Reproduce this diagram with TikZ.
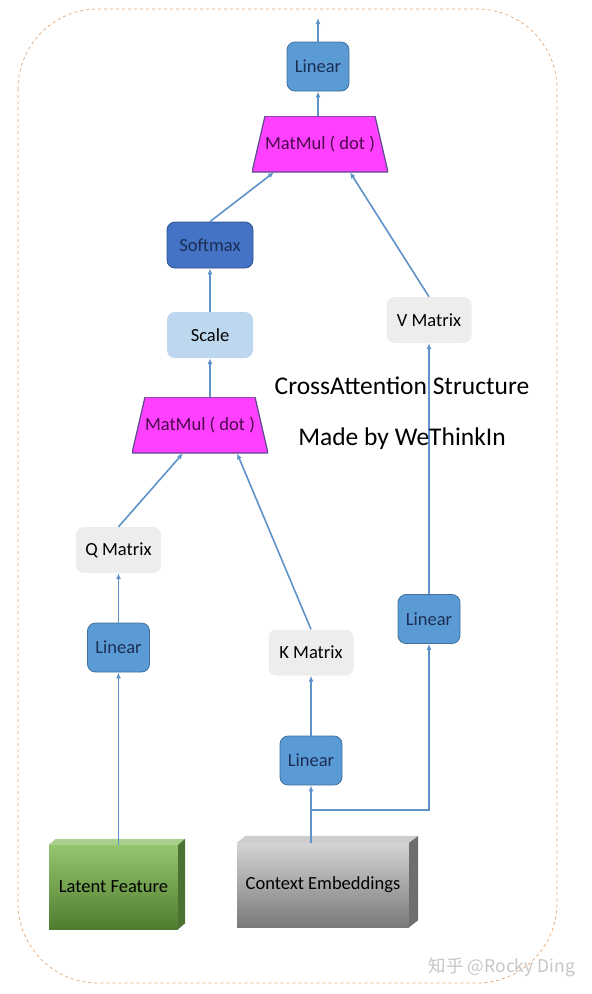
\documentclass[tikz,border=0pt]{standalone}
\usepackage{fontspec}
\setmainfont{Carlito}
\newfontfamily\cjkfont{Noto Sans CJK SC}
\usepackage{tikz}
\usepackage{xcolor}
\usetikzlibrary{arrows.meta,
	positioning}
\definecolor{linfill}{HTML}{5B9BD5}
\definecolor{linedge}{HTML}{41719C}
\definecolor{softfill}{HTML}{4472C4}
\definecolor{softedge}{HTML}{2F528F}
\definecolor{sclfill}{HTML}{BDD7EE}
\definecolor{mtxfill}{HTML}{EDEDED}
\definecolor{mmfill}{HTML}{FF40FF}
\definecolor{mmedge}{HTML}{5A4A8A}
\definecolor{mmtext}{HTML}{4A0A4A}
\definecolor{navy}{HTML}{1C2E55}
\definecolor{arblue}{HTML}{5E93C9}
\definecolor{frame}{HTML}{E2A672}
\definecolor{latA}{HTML}{95C66F}
\definecolor{latB}{HTML}{507C2F}
\definecolor{latT}{HTML}{A9D08E}
\definecolor{latS}{HTML}{4A7230}
\definecolor{ctxA}{HTML}{D3D3D3}
\definecolor{ctxB}{HTML}{7A7A7A}
\definecolor{ctxT}{HTML}{CDCDCD}
\definecolor{ctxS}{HTML}{6E6E6E}
\tikzstyle{txt}=[font=\fontsize{18.5}{22}\selectfont, inner sep=0]
\tikzstyle{lin}=[txt, draw=linedge, line width=0.8pt, fill=linfill, rounded corners=8pt,
		minimum width=62pt, minimum height=49pt, text=navy]
\tikzstyle{sm}=[txt, draw=softedge, line width=0.8pt, fill=softfill, rounded corners=8pt,
		minimum width=86pt, minimum height=46pt, text=navy]
\tikzstyle{sc}=[txt, fill=sclfill, rounded corners=8pt, minimum width=86pt, minimum height=46pt]
\tikzstyle{mtx}=[txt, fill=mtxfill, rounded corners=8pt, minimum width=85pt, minimum height=46pt]
\tikzstyle{mm}=[txt, fill=white, minimum width=136pt, minimum height=56pt, text=mmtext,
		path picture={\filldraw[fill=mmfill, draw=mmedge, line width=1.2pt]
			([xshift=13pt]path picture bounding box.north west)
			-- ([xshift=-13pt]path picture bounding box.north east)
			-- (path picture bounding box.south east)
			-- (path picture bounding box.south west) -- cycle;}]
\tikzstyle{ar}=[draw=arblue, line width=1.6pt, -{Latex[length=6pt,width=5pt]}]
\tikzstyle{ttl}=[font=\fontsize{25.5}{30}\selectfont, inner sep=0]

\begin{document}
\begin{tikzpicture}[x=1pt, y=-1pt]
	\useasboundingbox (0,0) rectangle (592,994);
	\draw[frame, dashed, line width=0.7pt, rounded corners=80pt] (18,9) rectangle (557,983);

	\node[lin] (lint) at (318,66.5) {Linear};
	\node[mm] (mmt) at (320,144) {MatMul ( dot )};
	\node[sm] (soft) at (210,245) {Softmax};
	\node[sc] (scl) at (210,335) {Scale};
	\node[mtx] (vmat) at (429,320) {V Matrix};
	\node[mm] (mml) at (200,425) {MatMul ( dot )};
	\node[mtx] (qmat) at (118.5,550) {Q Matrix};
	\node[lin] (qlin) at (118.5,647.5) {Linear};
	\node[mtx] (kmat) at (311,652.5) {K Matrix};
	\node[lin] (klin) at (311,760.5) {Linear};
	\node[lin] (vlin) at (429,619) {Linear};

	\node[txt, shade, top color=latA, bottom color=latB,
		minimum width=129pt, minimum height=84pt] (lat) at (113.5,887) {Latent Feature};
	\fill[latT] (lat.north west) -- ([shift={(7,-6)}]lat.north west)
		-- ([shift={(7,-6)}]lat.north east) -- (lat.north east) -- cycle;
	\fill[latS] (lat.north east) -- ([shift={(7,-6)}]lat.north east)
		-- ([shift={(7,-6)}]lat.south east) -- (lat.south east) -- cycle;

	\node[txt, shade, top color=ctxA, bottom color=ctxB,
		minimum width=172pt, minimum height=84pt] (ctx) at (323,885) {Context Embeddings};
	\fill[ctxT] (ctx.north west) -- ([shift={(9,-7)}]ctx.north west)
		-- ([shift={(9,-7)}]ctx.north east) -- (ctx.north east) -- cycle;
	\fill[ctxS] (ctx.north east) -- ([shift={(9,-7)}]ctx.north east)
		-- ([shift={(9,-7)}]ctx.south east) -- (ctx.south east) -- cycle;

	\coordinate (out) at (318,18);
	\coordinate (br) at (311,810);
	\draw[ar] (lint.north) -- (out);
	\draw[ar] (lint.south |- mmt.north) -- (lint.south);
	\draw[ar] (soft.north) -- ([xshift=-46pt]mmt.south);
	\draw[ar] (vmat.north) -- ([xshift=30pt]mmt.south);
	\draw[ar] (scl.north) -- (soft.south);
	\draw[ar] (scl.south |- mml.north) -- (scl.south);
	\draw[ar] (qmat.north) -- ([xshift=-17pt]mml.south);
	\draw[ar] (kmat.north) -- ([xshift=37pt]mml.south);
	\draw[ar] (qlin.north) -- (qmat.south);
	\draw[ar] (qlin.south |- lat.north) -- (qlin.south);
	\draw[ar] (klin.north) -- (kmat.south);
	\draw[ar] (klin.south |- ctx.north) -- (klin.south);
	\draw[ar] (br) -| (vlin.south);
	\draw[ar] (vlin.north) -- (vmat.south);

	\node[ttl] (title) at (402,386) {CrossAttention Structure};
	\node[ttl] (made) at (402,439) {Made by WeThinkIn};
	\node[txt, text=gray!45, font=\cjkfont\fontsize{17.5}{20}\selectfont] (wm) at (502,967) {知乎 @Rocky Ding};
\end{tikzpicture}
\end{document}
